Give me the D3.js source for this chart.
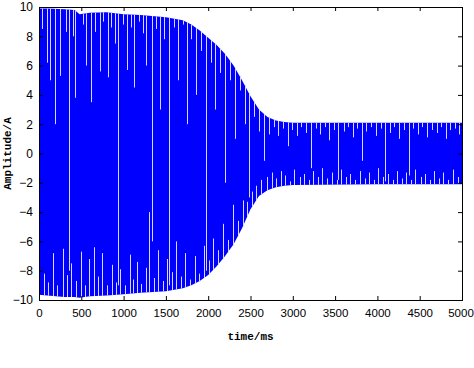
<!DOCTYPE html>
<html>
<head>
<meta charset="utf-8">
<script src="https://cdn.jsdelivr.net/npm/d3@7"></script>
<style>
body { margin: 0; background: #fff; }
text { fill: #000; }
</style>
</head>
<body>
<script>
// envelope of the current (ms, A)
var envTime  = [0, 100, 300, 420, 480, 600, 800, 1000, 1200, 1500, 1700, 1800, 1900, 2000, 2100, 2200, 2300, 2400, 2500, 2600, 2700, 2800, 2900, 3000, 4000, 5000];
var envUpper = [9.9, 9.9, 9.85, 9.8, 9.5, 9.6, 9.65, 9.5, 9.45, 9.3, 9.1, 8.8, 8.4, 7.9, 7.4, 6.8, 6.0, 5.0, 3.9, 3.0, 2.5, 2.25, 2.15, 2.1, 2.1, 2.1];
var envLower = [-9.65, -9.7, -9.8, -9.8, -9.85, -9.75, -9.7, -9.6, -9.5, -9.4, -9.2, -9.0, -8.7, -8.3, -7.7, -7.0, -6.2, -5.1, -3.8, -2.9, -2.5, -2.3, -2.2, -2.15, -2.1, -2.1];

// light aliasing streaks: [time ms, value the streak runs to]
var streaksTop = [[30, 8.5], [90, 6.2], [130, 5], [190, 2], [250, 5.3], [320, 8.3], [350, -8], [400, 8], [430, 3.8],
  [520, 8.8], [560, 6], [610, 3.5], [660, 8.3], [720, 5.6], [760, 9], [810, 5.2], [850, 8.6], [900, 7.5], [930, -9],
  [990, 8.8], [1040, 5.7], [1090, 8.6], [1120, 4.5], [1180, 9], [1230, 8.2], [1270, 6], [1330, -6], [1380, 8.5],
  [1430, 3], [1480, 7.8], [1540, -9], [1590, 8.6], [1640, 5], [1700, 8.8], [1750, 2], [1800, 7.8], [1860, 4],
  [1920, 7], [1970, -8], [2030, 6.2], [2080, 3], [2140, 5.5], [2200, -2], [2260, 5], [2320, 1], [2370, 4.3],
  [2430, 2], [2480, -3], [2540, 2.5], [2600, 1.5], [2660, -0.5], [2720, 1.3], [2780, 1.8], [2830, 1.2], [2880, 1.7],
  [2940, 0.5], [2990, 1.6], [3050, 1.2], [3100, 1.8], [3160, 1.4], [3210, -1], [3270, 1.7], [3320, 1.3], [3380, 1.8],
  [3430, 0.9], [3490, 1.6], [3540, -1.8], [3600, 1.5], [3650, 1.8], [3710, 1.1], [3760, 1.7], [3820, -0.5],
  [3870, 1.5], [3930, 1.8], [3980, 1.2], [4040, 1.7], [4090, -1.9], [4150, 1.4], [4200, 1.8], [4260, 1.0],
  [4310, 1.6], [4370, -1.5], [4420, 1.7], [4480, 1.3], [4530, 1.8], [4590, 1.1], [4640, 1.6], [4700, 1.4],
  [4750, 1.8], [4810, 1.0], [4860, 1.6], [4920, 1.7], [4970, 1.3]];
var streaksBottom = [[60, -8.2], [110, -8.8], [160, -6.8], [210, -9], [280, -6.5], [330, -8.3], [380, -7.5],
  [440, -8.7], [500, -6.7], [540, -9], [590, -7.2], [650, -6.4], [700, -8.4], [740, -6.8], [800, -9], [860, -7.6],
  [910, -8.8], [960, -7.9], [1020, -9], [1070, -6.9], [1110, -8.6], [1160, -7.4], [1210, -8.9], [1260, -7.8],
  [1300, -4], [1360, -8.5], [1410, -6.6], [1460, -8.7], [1510, -7.2], [1570, -8.1], [1620, -6], [1680, -8.4],
  [1730, -6.8], [1780, -8.6], [1840, -7], [1890, -8.2], [1950, -6.3], [2010, -7.3], [2060, -5.8], [2120, -6.6],
  [2170, -4.8], [2230, -5.9], [2290, -3.5], [2350, -4.6], [2410, -3.2], [2460, -3.3], [2520, -2.6], [2570, -2.2],
  [2630, -1.8], [2690, -1.6], [2750, -1.3], [2800, -1.7], [2860, -1.2], [2910, -1.5], [2970, -1.9], [3020, -1.1],
  [3080, -1.6], [3130, -1.4], [3190, -1.8], [3240, -1.2], [3300, -1.6], [3350, -1.0], [3410, -1.7], [3460, -1.3],
  [3520, -1.8], [3570, -1.1], [3630, -1.6], [3680, -1.4], [3740, -1.8], [3790, -1.2], [3850, -1.7], [3900, -1.3],
  [3960, -1.8], [4010, -1.0], [4070, -1.6], [4120, -1.4], [4180, -1.8], [4230, -1.2], [4290, -1.7], [4340, -1.3],
  [4400, -1.8], [4450, -1.1], [4510, -1.6], [4560, -1.4], [4620, -1.8], [4670, -1.2], [4730, -1.7], [4780, -1.3],
  [4840, -1.8], [4890, -1.1], [4950, -1.6]];

var xTicks = [0, 500, 1000, 1500, 2000, 2500, 3000, 3500, 4000, 4500, 5000];
var yTicks = [-10, -8, -6, -4, -2, 0, 2, 4, 6, 8, 10];

var width = 474, height = 368;
var margin = {left: 39, right: 12, top: 7, bottom: 68};
var plotW = width - margin.left - margin.right;
var plotH = height - margin.top - margin.bottom;

var svg = d3.select("body")
	.append("svg")
		.attr("width", width)
		.attr("height", height);

var x = d3.scaleLinear().domain([0, 5000]).range([0, plotW]);
var y = d3.scaleLinear().domain([-10, 10]).range([plotH, 0]);

var g = svg.append("g")
		.attr("transform", "translate(" + margin.left + "," + margin.top + ")");

var envelope = envTime.map(function(t, i) {
	return {t: t, hi: envUpper[i], lo: envLower[i]};
});

function envAt(t, key) {
	var i = d3.bisectLeft(envTime, t);
	if (i <= 0) return envelope[0][key];
	if (i >= envTime.length) return envelope[envTime.length - 1][key];
	var a = envelope[i - 1], b = envelope[i];
	return a[key] + (b[key] - a[key]) * (t - a.t) / (b.t - a.t);
}

g.append("path")
		.datum(envelope)
		.attr("fill", "#0000ff")
		.attr("d", d3.area()
			.x(function(d) { return x(d.t); })
			.y0(function(d) { return y(d.lo); })
			.y1(function(d) { return y(d.hi); }));

function drawStreaks(data, key) {
	g.append("g")
		.selectAll("line")
			.data(data)
		.enter()
		.append("line")
			.attr("x1", function(d) { return Math.round(x(d[0])) + 0.5; })
			.attr("x2", function(d) { return Math.round(x(d[0])) + 0.5; })
			.attr("y1", function(d) { return y(envAt(d[0], key)); })
			.attr("y2", function(d) { return y(d[1]); })
			.attr("stroke", "#d6d6ff")
			.attr("stroke-width", 1);
}
drawStreaks(streaksTop, "hi");
drawStreaks(streaksBottom, "lo");

// box with inward ticks, MATLAB style
g.append("rect")
		.attr("x", 0.5)
		.attr("y", 0.5)
		.attr("width", plotW)
		.attr("height", plotH)
		.attr("fill", "none")
		.attr("stroke", "#000")
		.attr("stroke-width", 1);

var tickFont = "'Liberation Sans', Arial, sans-serif";

g.append("g")
		.attr("transform", "translate(0," + plotH + ")")
		.call(d3.axisBottom(x).tickValues(xTicks).tickSize(-4).tickPadding(9).tickFormat(d3.format("d")))
		.call(function(a) {
			a.select(".domain").remove();
			a.selectAll("text").attr("font-family", tickFont).attr("font-size", 11.5);
			a.selectAll(".tick:last-of-type text").attr("dx", -1.5);
		});
g.append("g")
		.call(d3.axisTop(x).tickValues(xTicks).tickSize(-4).tickFormat(""))
		.call(function(a) { a.select(".domain").remove(); });
g.append("g")
		.call(d3.axisLeft(y).tickValues(yTicks).tickSize(-4).tickPadding(6).tickFormat(d3.format("d")))
		.call(function(a) {
			a.select(".domain").remove();
			a.selectAll("text").attr("font-family", tickFont).attr("font-size", 12);
		});
g.append("g")
		.attr("transform", "translate(" + plotW + ",0)")
		.call(d3.axisRight(y).tickValues(yTicks).tickSize(-4).tickFormat(""))
		.call(function(a) { a.select(".domain").remove(); });

var labelFont = "'Liberation Mono', 'DejaVu Sans Mono', monospace";

svg.append("text")
		.attr("x", margin.left + plotW / 2)
		.attr("y", 340)
		.attr("text-anchor", "middle")
		.attr("font-family", labelFont)
		.attr("font-size", 11)
		.attr("font-weight", "bold")
		.text("time/ms");

svg.append("text")
		.attr("transform", "translate(11," + (margin.top + plotH / 2) + ") rotate(-90)")
		.attr("text-anchor", "middle")
		.attr("font-family", labelFont)
		.attr("font-size", 11)
		.attr("font-weight", "bold")
		.text("Amplitude/A");
</script>
</body>
</html>
